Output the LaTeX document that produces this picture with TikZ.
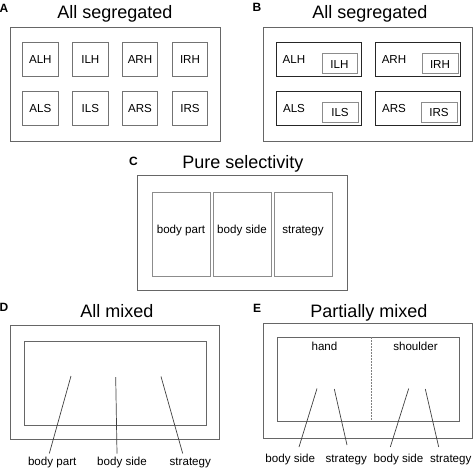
\documentclass[tikz,border=0pt]{standalone}
\usepackage{fontspec}
\setmainfont{Liberation Sans}
\begin{document}
\begin{tikzpicture}[x=1pt,y=-1pt,
  frame/.style={draw=black!60,line width=1pt},
  cell/.style={draw=black!55,line width=0.9pt},
  bigcell/.style={draw=black!85,line width=1pt},
  subcell/.style={draw=black!45,line width=0.9pt},
  title/.style={font=\fontsize{18}{20}\selectfont,anchor=base,inner sep=0pt},
  lab/.style={font=\fontsize{11.6}{13}\selectfont,anchor=base,inner sep=0pt},
  letter/.style={font=\fontsize{12}{13}\selectfont\bfseries,inner sep=0pt},
  lead/.style={draw=black!75,line width=0.7pt}]
\useasboundingbox (0,0) rectangle (474,469);
% ---------- A ----------
\node[letter] (la) at (4,8) {A};
\node[title] (ta) at (115,18) {All segregated};
\draw[frame] (10.7,27) rectangle (220,141);
\foreach \x/\n [count=\i] in {40.3/ALH,90.3/ILH,140/ARH,190/IRH}{
  \draw[cell] (\x-17.7,42) rectangle (\x+17.7,76);
  \node[lab] (a\n) at (\x,63) {\n};
}
\foreach \x/\n in {40.3/ALS,90.3/ILS,140/ARS,190/IRS}{
  \draw[cell] (\x-17.7,91) rectangle (\x+17.7,125);
  \node[lab] (a\n) at (\x,112) {\n};
}
% ---------- B ----------
\node[letter] (lb) at (257,7.5) {B};
\node[title] (tb) at (370,18) {All segregated};
\draw[frame] (263.7,27) rectangle (472.5,141);
\draw[bigcell] (276,42) rectangle (361,76);
\draw[bigcell] (375,42) rectangle (460,76);
\draw[bigcell] (276,91) rectangle (361,125);
\draw[bigcell] (375,91) rectangle (460,125);
\draw[subcell] (322,53) rectangle (357,73);
\draw[subcell] (422,53) rectangle (458,73);
\draw[subcell] (322,102) rectangle (358,122);
\draw[subcell] (421,102) rectangle (457,122);
\node[lab] (bALH) at (294,63) {ALH};
\node[lab] (bARH) at (394,63) {ARH};
\node[lab] (bALS) at (294,112) {ALS};
\node[lab] (bARS) at (394,112) {ARS};
\node[lab] (bILH) at (339.5,68) {ILH};
\node[lab] (bIRH) at (440,68) {IRH};
\node[lab] (bILS) at (340,116.5) {ILS};
\node[lab] (bIRS) at (439,116.5) {IRS};
% ---------- C ----------
\node[letter] (lc) at (133.5,161.5) {C};
\node[title] (tc) at (243,168) {Pure selectivity};
\draw[frame] (137.3,175.5) rectangle (347,290.7);
\draw[subcell] (152,192) rectangle (210,276);
\draw[subcell] (213,192) rectangle (271.5,276);
\draw[subcell] (274,192) rectangle (332,276);
\node[lab] (cbp) at (181,233) {body part};
\node[lab] (cbs) at (242,233) {body side};
\node[lab] (cst) at (303,233) {strategy};
% ---------- D ----------
\node[letter] (ld) at (4,307) {D};
\node[title] (td) at (117,317) {All mixed};
\draw[frame] (10.7,325) rectangle (219.3,439);
\draw[frame] (24,341) rectangle (206,425);
\coordinate (d1t) at (71,376);  \coordinate (d1b) at (49.3,453.5);
\coordinate (d2t) at (115.7,377); \coordinate (d2b) at (117,453.5);
\coordinate (d3t) at (161,376.5); \coordinate (d3b) at (182.7,453.5);
\draw[lead] (d1t) -- (d1b);
\draw[lead] (d2t) -- (d2b);
\draw[lead] (d3t) -- (d3b);
\node[lab] (dbp) at (52.2,465) {body part};
\node[lab] (dbs) at (122,465) {body side};
\node[lab] (dst) at (190.3,465) {strategy};
% ---------- E ----------
\node[letter] (le) at (257,308) {E};
\node[title] (te) at (369,317) {Partially mixed};
\draw[frame] (263.7,323.3) rectangle (472.5,438.3);
\draw[frame] (277.7,337) rectangle (459.7,421);
\coordinate (edt) at (371,337); \coordinate (edb) at (371,421);
\draw[draw=black!50,line width=0.6pt,dash pattern=on 1.5pt off 1.5pt] (edt) -- (edb);
\node[lab] (ehand) at (324.5,350) {hand};
\node[lab] (esh) at (415.5,350) {shoulder};
\coordinate (e1t) at (317,388.5); \coordinate (e1b) at (299,447);
\coordinate (e2t) at (334.3,389); \coordinate (e2b) at (347,445);
\coordinate (e3t) at (408.7,388.5); \coordinate (e3b) at (390.3,447);
\coordinate (e4t) at (425.3,389); \coordinate (e4b) at (438.7,447);
\draw[lead] (e1t) -- (e1b);
\draw[lead] (e2t) -- (e2b);
\draw[lead] (e3t) -- (e3b);
\draw[lead] (e4t) -- (e4b);
\node[lab] (ebs1) at (290.3,462.5) {body side};
\node[lab] (est1) at (346.3,462.5) {strategy};
\node[lab] (ebs2) at (398.5,462.5) {body side};
\node[lab] (est2) at (450.8,462.5) {strategy};
\end{tikzpicture}
\end{document}
